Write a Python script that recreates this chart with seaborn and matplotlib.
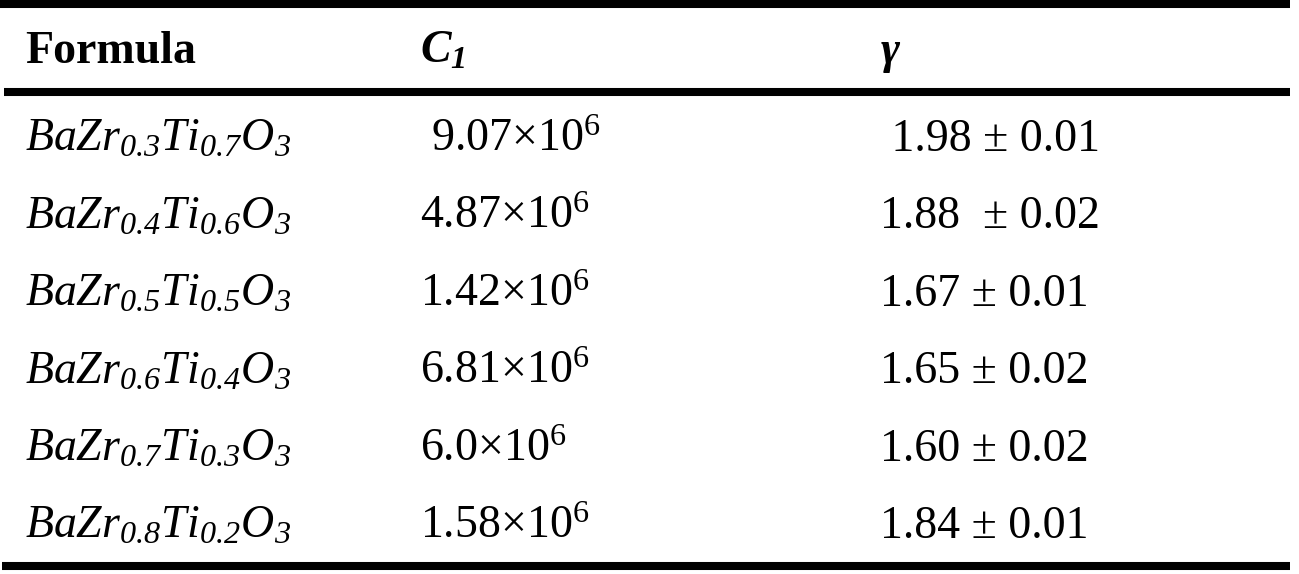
import pandas as pd
import seaborn as sns
import matplotlib.pyplot as plt

# table content
zr = ["0.3", "0.4", "0.5", "0.6", "0.7", "0.8"]
ti = ["0.7", "0.6", "0.5", "0.4", "0.3", "0.2"]
c1 = [" 9.07", "4.87", "1.42", "6.81", "6.0", "1.58"]
gamma = [" 1.98 ± 0.01", "1.88  ± 0.02", "1.67 ± 0.01",
         "1.65 ± 0.02", "1.60 ± 0.02", "1.84 ± 0.01"]
headers = ["Formula", r"$\mathbf{C}_{\mathbf{1}}$", r"$\mathbf{\gamma}$"]

df = pd.DataFrame({"zr": zr, "ti": ti, "c1": c1, "gamma": gamma})

sns.set_theme(style="white")
plt.rcParams["font.family"] = ["Liberation Serif", "DejaVu Serif"]
plt.rcParams["text.color"] = "black"
plt.rcParams["mathtext.fontset"] = "custom"
plt.rcParams["mathtext.rm"] = "Liberation Serif"
plt.rcParams["mathtext.it"] = "Liberation Serif:italic"
# sf is used for fully italic formulas (digits included)
plt.rcParams["mathtext.sf"] = "Liberation Serif:italic"
plt.rcParams["mathtext.bf"] = "Liberation Serif:bold:italic"

fig = plt.figure(figsize=(12.99, 5.74), dpi=100)
ax = fig.add_axes([0, 0, 1, 1])
ax.set_xlim(0, 1299)
ax.set_ylim(574, 0)
ax.axis("off")

fs = 33
col_x = [25, 420, 880]

# rules
ax.hlines(4, 0, 1290, color="black", lw=5.8)
ax.hlines(92, 4, 1290, color="black", lw=5.8)
ax.hlines(566, 2, 1290, color="black", lw=5.8)

# header
ax.text(col_x[0], 63, headers[0], fontsize=fs, fontweight="bold", va="baseline")
ax.text(col_x[1], 63, headers[1], fontsize=fs, va="baseline")
ax.text(col_x[2], 63, headers[2], fontsize=fs, va="baseline")

y0, dy = 151, 77.4
for i, row in df.iterrows():
    y = y0 + i * dy
    formula = (r"$\mathsf{BaZr}_{\mathsf{%s}}\mathsf{Ti}_{\mathsf{%s}}\mathsf{O}_{\mathsf{3}}$"
               % (row["zr"], row["ti"]))
    ax.text(col_x[0], y, formula, fontsize=fs, va="baseline")
    ax.text(col_x[1], y, row["c1"] + "×10$^{6}$", fontsize=fs, va="baseline")
    ax.text(col_x[2], y, row["gamma"], fontsize=fs, va="baseline")

fig.savefig("out.png", dpi=100, facecolor="white")
